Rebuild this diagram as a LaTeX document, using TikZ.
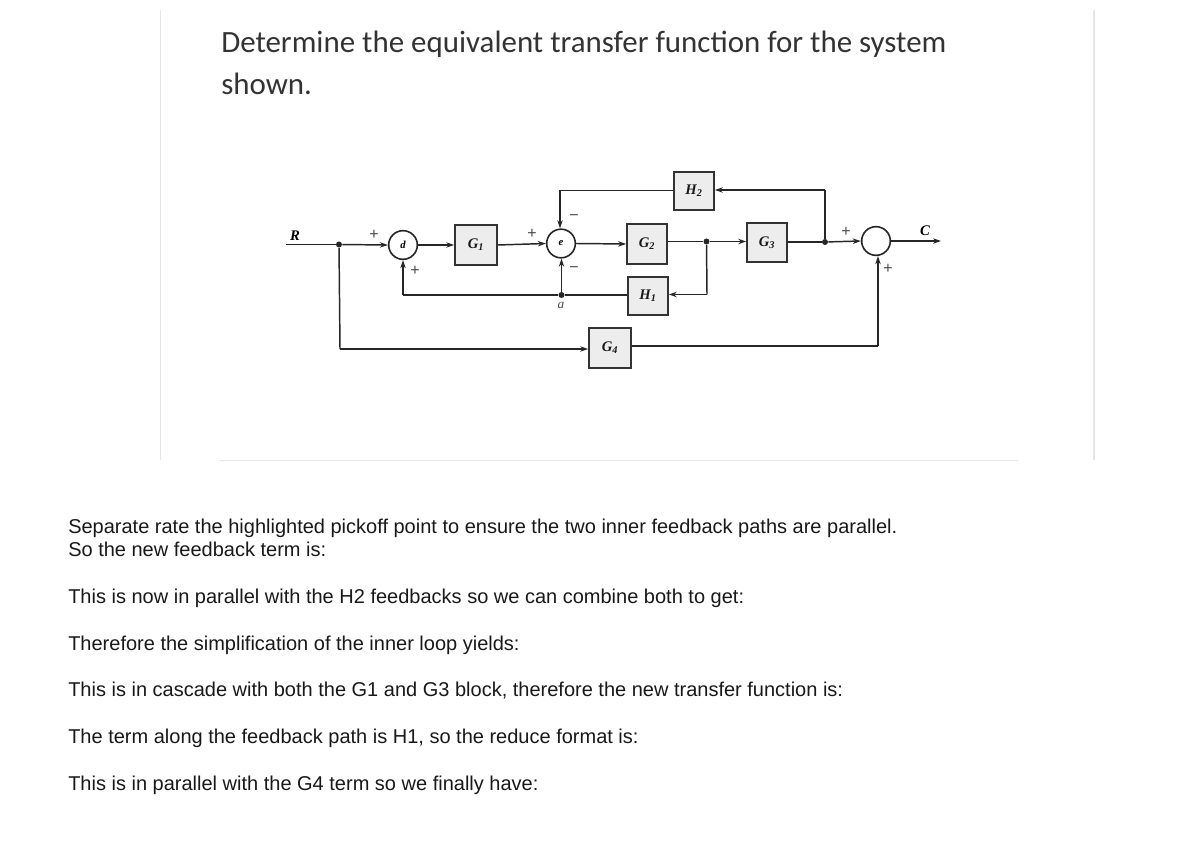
\documentclass[tikz,border=0pt]{standalone}
\usepackage{fontspec}
\setmainfont{Liberation Sans}
\newfontfamily\titlefont{Carlito}
\newfontfamily\diagfont{Liberation Serif}
\usetikzlibrary{arrows.meta,patterns}
\tikzset{
  x=0.75pt,y=-0.75pt,
  line/.style={draw=black!85,line width=1.1pt},
  arr/.style={line,-{Stealth[length=6pt,width=4pt]}},
  blockbox/.style={draw=black!80,line width=1.2pt,fill=black!7,inner sep=0pt,text=black!90,font=\diagfont\bfseries\itshape\fontsize{11}{11}\selectfont},
  sumcircle/.style={circle,draw=black!85,fill=white,line width=1.2pt,minimum size=21.5pt,inner sep=0pt,font=\diagfont\itshape\bfseries\fontsize{8}{8}\selectfont},
  junction/.style={circle,fill=black!85,minimum size=4.5pt,inner sep=0pt},
  sign/.style={font=\fontsize{12}{12}\selectfont,text=black!70,inner sep=0pt},
  siglabel/.style={font=\diagfont\itshape\bfseries\fontsize{11}{11}\selectfont,inner sep=0pt},
  frameline/.style={draw=black!10,line width=1pt},
  titletext/.style={anchor=base west,inner sep=0pt,font=\titlefont\fontsize{23.2}{23.2}\selectfont,text=black!80},
  bodytext/.style={anchor=base west,inner sep=0pt,font=\fontsize{15}{15}\selectfont,text=black!90},
}
\begin{document}
\begin{tikzpicture}
\useasboundingbox (0,0) rectangle (1185,848);
\fill[white] (0,0) rectangle (1185,848);
\draw[frameline] (160.5,10) -- (160.5,460);
\draw[frameline] (1094,10) -- (1094,460);
\draw[frameline] (220,460.5) -- (1018,460.5);

\node[titletext] (t1) at (221,53) {Determine the equivalent transfer function for the system};
\node[titletext] (t2) at (221,95) {shown.};

% blocks
\node[sumcircle] (d) at (403,245) {d};
\node[sumcircle] (e) at (561,243.5) {e};
\node[sumcircle] (s) at (876,241) {};
\node[blockbox,minimum width=31.5pt,minimum height=30pt] (G1) at (476,245) {G\textsubscript{1}};
\node[blockbox,minimum width=30pt,minimum height=30pt] (G2) at (647,244) {G\textsubscript{2}};
\node[blockbox,minimum width=30pt,minimum height=29.5pt] (G3) at (767,242.5) {G\textsubscript{3}};
\node[blockbox,minimum width=31.5pt,minimum height=30pt] (G4) at (610,348) {G\textsubscript{4}};
\node[blockbox,minimum width=30pt,minimum height=28.5pt] (H1) at (648,296) {H\textsubscript{1}};
\node[blockbox,minimum width=30pt,minimum height=28.5pt] (H2) at (694,191) {H\textsubscript{2}};

% junctions and free ends
\node[junction] (jR) at (339,244.5) {};
\node[junction] (ja) at (561.5,295) {};
\node[junction] (jm) at (706.5,241.5) {};
\node[junction] (jo) at (825,242) {};
\coordinate (Rin) at (286,244.5);
\coordinate (Cout) at (941,241);
\coordinate (c1) at (340,349);
\coordinate (c2) at (403,295);
\coordinate (c3) at (560,190.5);
\coordinate (c4) at (825,190);
\coordinate (c5) at (707,294.5);
\coordinate (c6) at (878,346);

% connectors
\draw[line] (Rin) -- (jR);
\draw[arr] (jR) -- (d.west);
\draw[arr] (d.east) -- (G1.west);
\draw[arr] (G1.east) -- (e.west);
\draw[arr] (e.east) -- (G2.west);
\draw[line] (G2.east |- jm) -- (jm);
\draw[arr] (jm) -- (G3.west |- jm);
\draw[line] (G3.east |- jo) -- (jo);
\draw[arr] (jo) -- (s.west);
\draw[arr] (s.east) -- (Cout);
\draw[line] (jo) -- (c4);
\draw[arr] (c4) -- (H2.east |- c4);
\draw[line] (H2.west |- c3) -- (c3);
\draw[arr] (c3) -- (e.north -| c3);
\draw[line] (jm) -- (c5);
\draw[arr] (c5) -- (H1.east |- c5);
\draw[line] (H1.west |- ja) -- (ja);
\draw[arr] (ja) -- (e.south -| ja);
\draw[line] (ja) -- (c2);
\draw[arr] (c2) -- (d.south);
\draw[line] (jR) -- (c1);
\draw[arr] (c1) -- (G4.west |- c1);
\draw[line] (G4.east |- c6) -- (c6);
\draw[arr] (c6) -- (s.south -| c6);

% labels on diagram
\node[siglabel] (lR) at (295,236) {R};
\node[siglabel] (lC) at (925,231) {C};
\node[font=\diagfont\itshape\fontsize{10}{10}\selectfont,text=black!70,inner sep=0pt] (la) at (561,305.5) {a};
\node[sign] (p1) at (374,235) {+};
\node[sign] (p2) at (415,271) {+};
\node[sign] (p3) at (532,234) {+};
\node[sign] (p4) at (846,232) {+};
\node[sign] (p5) at (888,269) {+};
\node[sign] (m1) at (574,218) {\textminus};
\node[sign] (m2) at (574,270) {\textminus};

% text
\node[bodytext] (b1) at (68,533) {Separate rate the highlighted pickoff point to ensure the two inner feedback paths are parallel.};
\node[bodytext] (b2) at (68,556) {So the new feedback term is:};
\node[bodytext] (b3) at (68,603) {This is now in parallel with the H2 feedbacks so we can combine both to get:};
\node[bodytext] (b4) at (68,650) {Therefore the simplification of the inner loop yields:};
\node[bodytext] (b5) at (68,696) {This is in cascade with both the G1 and G3 block, therefore the new transfer function is:};
\node[bodytext] (b6) at (68,743) {The term along the feedback path is H1, so the reduce format is:};
\node[bodytext] (b7) at (68,790) {This is in parallel with the G4 term so we finally have:};
\end{tikzpicture}
\end{document}
